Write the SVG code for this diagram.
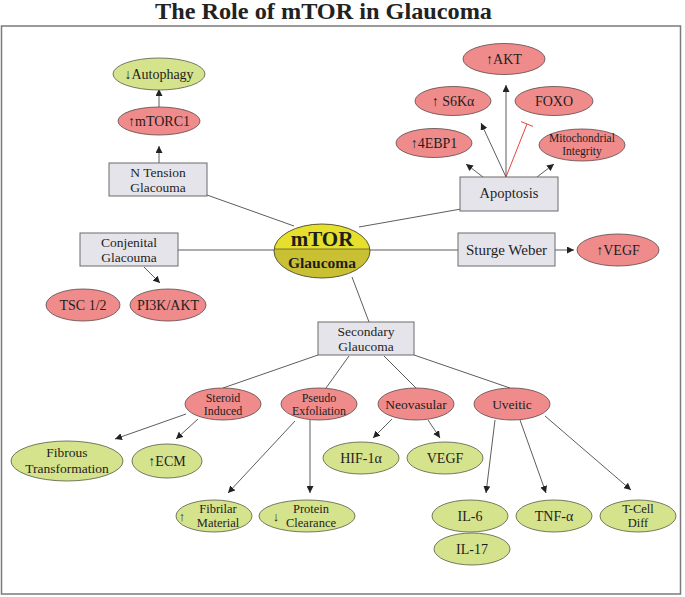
<svg xmlns="http://www.w3.org/2000/svg" width="685" height="597" viewBox="0 0 685 597" font-size="14">
<style>
.pink{fill:#f08b8b;stroke:#5a4848;stroke-width:0.8}
.green{fill:#d5e38c;stroke:#555a44;stroke-width:0.8}
.box{fill:#e6e4eb;stroke:#6a6a6a;stroke-width:1}
.t{font-family:"Liberation Serif","DejaVu Serif",serif;fill:#1e1e1e;text-anchor:middle}
.ln{stroke:#333;stroke-width:0.8;fill:none}
.arr{marker-end:url(#ah)}
</style>
<defs>
<marker id="ah" viewBox="0 0 10 10" refX="10" refY="5" markerWidth="7" markerHeight="7" markerUnits="userSpaceOnUse" orient="auto">
<path d="M0,0 L10,5 L0,10 z" fill="#222"/>
</marker>
<clipPath id="topHalf"><rect x="260" y="215" width="130" height="34"/></clipPath>
</defs>
<rect width="685" height="597" fill="#ffffff"/>
<text x="323.5" y="19" font-family="'Liberation Serif',serif" font-weight="bold" font-size="23" fill="#222" text-anchor="middle" textLength="337" lengthAdjust="spacingAndGlyphs">The Role of mTOR in Glaucoma</text>
<rect x="1.5" y="26" width="679" height="568" fill="none" stroke="#7a7a7a" stroke-width="1.5"/>

<g id="connectors">
<line class="ln" x1="207" y1="195" x2="294" y2="226"/>
<line class="ln" x1="461" y1="209" x2="359" y2="227"/>
<line class="ln" x1="178" y1="250" x2="274" y2="250"/>
<line class="ln" x1="370" y1="250" x2="458" y2="250"/>
<line class="ln" x1="352" y1="277" x2="369" y2="322"/>
<line class="ln arr" x1="159" y1="163" x2="159" y2="146"/>
<line class="ln arr" x1="159" y1="107" x2="159" y2="89"/>
<line class="ln arr" x1="506" y1="177" x2="506" y2="85"/>
<line class="ln arr" x1="506" y1="177" x2="481" y2="123"/>
<line x1="506" y1="177" x2="527" y2="124" stroke="#e0302a" stroke-width="0.9"/>
<line x1="521" y1="121.6" x2="533" y2="126.4" stroke="#e0302a" stroke-width="0.9"/>
<line class="ln arr" x1="483" y1="177" x2="466" y2="164"/>
<line class="ln arr" x1="537" y1="177" x2="554" y2="164"/>
<line class="ln arr" x1="144" y1="267" x2="160" y2="283"/>
<line class="ln arr" x1="555" y1="250" x2="574" y2="250"/>
<line class="ln" x1="318" y1="355" x2="223" y2="388"/>
<line class="ln" x1="349" y1="356" x2="326" y2="388"/>
<line class="ln" x1="384" y1="356" x2="416" y2="388"/>
<line class="ln" x1="414" y1="355" x2="510" y2="388"/>
<line class="ln arr" x1="186" y1="414" x2="115" y2="439"/>
<line class="ln arr" x1="198" y1="419" x2="176" y2="439"/>
<line class="ln arr" x1="295" y1="421" x2="228" y2="493"/>
<line class="ln arr" x1="310" y1="420" x2="310" y2="493"/>
<line class="ln arr" x1="392" y1="419" x2="373" y2="438"/>
<line class="ln arr" x1="428" y1="420" x2="440" y2="438"/>
<line class="ln arr" x1="495" y1="420" x2="486" y2="493"/>
<line class="ln arr" x1="520" y1="420" x2="546" y2="493"/>
<line class="ln arr" x1="545" y1="416" x2="631" y2="490"/>
</g>

<g id="mtor">
<ellipse cx="322" cy="251" rx="48" ry="27" fill="#c9c034"/>
<ellipse cx="322" cy="251" rx="48" ry="27" fill="#e6e02c" clip-path="url(#topHalf)"/>
<ellipse cx="322" cy="251" rx="48" ry="27" fill="none" stroke="#4a4a30" stroke-width="0.9"/>
<line x1="274" y1="249" x2="370" y2="249" stroke="#4a4a30" stroke-width="0.7"/>
<text class="t" x="322" y="245.5" font-weight="bold" font-size="21">mTOR</text>
<text class="t" x="322" y="267.5" font-weight="bold" font-size="15.5">Glaucoma</text>
</g>

<g id="ntension">
<rect class="box" x="109" y="163" width="98" height="33"/>
<text class="t" font-size="13.5"><tspan x="158" y="176.5">N Tension</tspan><tspan x="158" y="192">Glacouma</tspan></text>
</g>
<g id="mtorc1">
<ellipse class="pink" cx="159" cy="121" rx="41" ry="14"/>
<text class="t" x="159" y="126">↑mTORC1</text>
</g>
<g id="autophagy">
<ellipse class="green" cx="159" cy="74" rx="46" ry="16"/>
<text class="t" x="159" y="79">↓Autophagy</text>
</g>

<g id="apoptosis">
<rect class="box" x="460" y="177" width="98" height="34"/>
<text class="t" x="509" y="198" font-size="14.5">Apoptosis</text>
</g>
<g id="akt">
<ellipse class="pink" cx="504" cy="59" rx="41" ry="15.5"/>
<text class="t" x="504" y="64">↑AKT</text>
</g>
<g id="s6k">
<ellipse class="pink" cx="453" cy="101" rx="38" ry="14.5"/>
<text class="t" x="453" y="106">↑ S6Kα</text>
</g>
<g id="foxo">
<ellipse class="pink" cx="554" cy="101" rx="39" ry="14.5"/>
<text class="t" x="554" y="106">FOXO</text>
</g>
<g id="ebp1">
<ellipse class="pink" cx="434" cy="143" rx="38" ry="14.5"/>
<text class="t" x="434" y="148">↑4EBP1</text>
</g>
<g id="mito">
<ellipse class="pink" cx="582" cy="145" rx="43" ry="16"/>
<text class="t" font-size="11.5"><tspan x="582" y="142">Mitochondrial</tspan><tspan x="582" y="155">Integrity</tspan></text>
</g>

<g id="conjenital">
<rect class="box" x="80" y="233" width="98" height="33"/>
<text class="t" font-size="13.5"><tspan x="129" y="246.5">Conjenital</tspan><tspan x="129" y="262">Glacouma</tspan></text>
</g>
<g id="tsc">
<ellipse class="pink" cx="83" cy="305" rx="37" ry="16"/>
<text class="t" x="83" y="310">TSC 1/2</text>
</g>
<g id="pi3k">
<ellipse class="pink" cx="168" cy="305" rx="38" ry="16"/>
<text class="t" x="168" y="310">PI3K/AKT</text>
</g>

<g id="sturge">
<rect class="box" x="458" y="233" width="97" height="33"/>
<text class="t" x="506.5" y="254.5" font-size="15">Sturge Weber</text>
</g>
<g id="vegf1">
<ellipse class="pink" cx="618" cy="250" rx="41" ry="16"/>
<text class="t" x="618" y="255">↑VEGF</text>
</g>

<g id="secondary">
<rect class="box" x="318" y="322" width="96" height="33"/>
<text class="t" font-size="13.5"><tspan x="366" y="335.5">Secondary</tspan><tspan x="366" y="351">Glaucoma</tspan></text>
</g>
<g id="steroid">
<ellipse class="pink" cx="223" cy="404" rx="38" ry="16"/>
<text class="t" font-size="12"><tspan x="223" y="401.5">Steroid</tspan><tspan x="223" y="415">Induced</tspan></text>
</g>
<g id="pseudo">
<ellipse class="pink" cx="319" cy="404" rx="38" ry="16"/>
<text class="t" font-size="12"><tspan x="319" y="401.5">Pseudo</tspan><tspan x="319" y="415">Exfoliation</tspan></text>
</g>
<g id="neovasular">
<ellipse class="pink" cx="416" cy="404" rx="38" ry="16"/>
<text class="t" x="416" y="408.5" font-size="13.5">Neovasular</text>
</g>
<g id="uveitic">
<ellipse class="pink" cx="512" cy="404" rx="38" ry="16"/>
<text class="t" x="512" y="408.5" font-size="13.5">Uveitic</text>
</g>

<g id="fibrous">
<ellipse class="green" cx="67" cy="461" rx="56" ry="20"/>
<text class="t" font-size="13.5"><tspan x="67" y="457">Fibrous</tspan><tspan x="67" y="472.5">Transformation</tspan></text>
</g>
<g id="ecm">
<ellipse class="green" cx="167" cy="461" rx="35" ry="17"/>
<text class="t" x="167" y="466">↑ECM</text>
</g>
<g id="hif">
<ellipse class="green" cx="361" cy="458" rx="38" ry="16"/>
<text class="t" x="361" y="463">HIF-1α</text>
</g>
<g id="vegf2">
<ellipse class="green" cx="445" cy="458" rx="38" ry="16"/>
<text class="t" x="445" y="463">VEGF</text>
</g>
<g id="fibrilar">
<ellipse class="green" cx="214" cy="516" rx="38" ry="16"/>
<text class="t" x="182" y="520.5" font-size="13">↑</text>
<text class="t" font-size="12.5"><tspan x="218" y="513">Fibrilar</tspan><tspan x="218" y="527">Material</tspan></text>
</g>
<g id="protein">
<ellipse class="green" cx="307" cy="516" rx="48" ry="16"/>
<text class="t" x="276" y="520.5" font-size="13">↓</text>
<text class="t" font-size="12.5"><tspan x="311" y="513">Protein</tspan><tspan x="311" y="527">Clearance</tspan></text>
</g>
<g id="il6">
<ellipse class="green" cx="470" cy="516" rx="38" ry="16"/>
<text class="t" x="470" y="521">IL-6</text>
</g>
<g id="il17">
<ellipse class="green" cx="472" cy="549" rx="38" ry="16"/>
<text class="t" x="472" y="554">IL-17</text>
</g>
<g id="tnf">
<ellipse class="green" cx="554" cy="516" rx="38" ry="16"/>
<text class="t" x="554" y="521">TNF-α</text>
</g>
<g id="tcell">
<ellipse class="green" cx="638" cy="516" rx="38" ry="16"/>
<text class="t" font-size="12.5"><tspan x="638" y="513">T-Cell</tspan><tspan x="638" y="527">Diff</tspan></text>
</g>
</svg>
